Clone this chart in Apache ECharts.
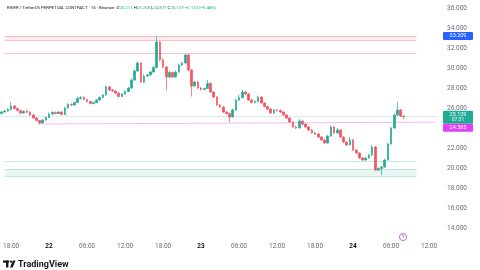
<!DOCTYPE html>
<html>
<head>
<meta charset="utf-8">
<script src="https://cdn.jsdelivr.net/npm/echarts@6/dist/echarts.min.js"></script>
<style>
  html, body { margin: 0; padding: 0; background: #fff; }
  #chart { width: 480px; height: 270px; }
</style>
</head>
<body>
<div id="chart"></div>
<script>
// RIVER / USDT perp, candles every 30 min from 21 Dec 16:30 to 24 Dec 08:00
const candleOpen = [
  25.45, 25.60, 25.70, 25.85, 26.20, 25.95, 25.75, 25.50, 25.65, 25.60, 25.30, 25.00, 24.75, 24.50, 24.80, 25.05,
  25.40, 25.55, 25.45, 25.60, 25.35, 26.00, 26.35, 26.30, 26.55, 26.95, 27.05, 26.85, 26.65, 26.45, 26.55, 26.80,
  27.05, 27.30, 28.10, 27.80, 27.70, 27.50, 27.15, 27.40, 27.65, 28.00, 28.80, 29.70, 30.50, 28.60, 29.20, 29.30,
  29.60, 30.05, 32.60, 30.80, 30.10, 29.10, 29.55, 29.10, 29.60, 30.30, 30.50, 31.30, 29.80, 28.20, 28.60, 28.00,
  27.85, 27.95, 28.45, 27.60, 27.10, 26.30, 26.10, 25.60, 25.45, 25.10, 25.80, 26.80, 27.05, 27.60, 27.40, 26.80,
  26.55, 26.65, 27.10, 26.50, 26.15, 25.90, 25.50, 25.80, 25.75, 25.60, 25.30, 25.00, 24.60, 24.10, 24.00, 24.70,
  24.40, 24.10, 23.80, 23.50, 23.40, 23.10, 22.80, 22.50, 23.20, 24.10, 23.50, 23.80, 23.10, 22.60, 22.30, 22.80,
  21.80, 21.50, 21.00, 20.80, 21.00, 21.30, 22.10, 19.80, 19.95, 20.10, 20.80, 22.40, 24.00, 25.30, 25.80, 25.211
];
const candleClose = [
  25.60, 25.70, 25.85, 26.20, 25.95, 25.75, 25.50, 25.65, 25.60, 25.30, 25.00, 24.75, 24.50, 24.80, 25.05, 25.40,
  25.55, 25.45, 25.60, 25.35, 26.00, 26.35, 26.30, 26.55, 26.95, 27.05, 26.85, 26.65, 26.45, 26.55, 26.80, 27.05,
  27.30, 28.10, 27.80, 27.70, 27.50, 27.15, 27.40, 27.65, 28.00, 28.80, 29.70, 30.50, 28.60, 29.20, 29.30, 29.60,
  30.05, 32.60, 30.80, 30.10, 29.10, 29.55, 29.10, 29.60, 30.30, 30.50, 31.30, 29.80, 28.20, 28.60, 28.00, 27.85,
  27.95, 28.45, 27.60, 27.10, 26.30, 26.10, 25.60, 25.45, 25.10, 25.80, 26.80, 27.05, 27.60, 27.40, 26.80, 26.55,
  26.65, 27.10, 26.50, 26.15, 25.90, 25.50, 25.80, 25.75, 25.60, 25.30, 25.00, 24.60, 24.10, 24.00, 24.70, 24.40,
  24.10, 23.80, 23.50, 23.40, 23.10, 22.80, 22.50, 23.20, 24.10, 23.50, 23.80, 23.10, 22.60, 22.30, 22.80, 21.80,
  21.50, 21.00, 20.80, 21.00, 21.30, 22.10, 19.80, 19.95, 20.10, 20.80, 22.40, 24.00, 25.30, 25.80, 25.21, 25.129
];
const candleLow = [
  25.38, 25.52, 25.62, 25.80, 25.88, 25.68, 25.40, 25.42, 25.48, 25.22, 24.92, 24.66, 24.35, 24.45, 24.72, 24.98,
  25.30, 25.36, 25.38, 25.28, 25.30, 25.92, 26.18, 26.22, 26.48, 26.86, 26.76, 26.55, 26.38, 26.36, 26.48, 26.72,
  26.98, 27.25, 27.70, 27.58, 27.40, 27.05, 27.08, 27.32, 27.58, 27.92, 28.72, 29.60, 28.50, 28.52, 29.08, 29.22,
  29.52, 29.98, 30.65, 29.95, 27.80, 29.00, 29.02, 29.04, 29.52, 30.20, 30.42, 29.70, 27.15, 28.10, 27.92, 27.75,
  27.78, 27.88, 27.52, 27.00, 26.22, 26.00, 25.50, 25.35, 24.60, 25.02, 25.72, 26.70, 26.98, 27.30, 26.72, 26.45,
  26.46, 26.58, 26.42, 26.05, 25.80, 25.42, 25.44, 25.64, 25.50, 25.22, 24.90, 24.52, 24.02, 23.90, 23.95, 24.30,
  24.02, 23.70, 23.42, 23.30, 23.00, 22.70, 22.40, 22.45, 23.12, 23.42, 23.44, 23.02, 22.50, 22.20, 22.24, 21.72,
  21.40, 20.92, 20.70, 20.74, 20.94, 21.24, 19.72, 19.70, 19.30, 20.02, 20.74, 22.32, 23.92, 25.20, 25.10, 24.877
];
const candleHigh = [
  25.72, 25.82, 26.00, 26.60, 26.30, 26.05, 25.82, 25.78, 25.80, 25.68, 25.38, 25.08, 24.82, 24.90, 25.15, 25.55,
  25.68, 25.65, 25.72, 25.66, 26.10, 26.48, 26.45, 26.66, 27.15, 27.20, 27.18, 26.92, 26.72, 26.66, 26.90, 27.15,
  27.42, 28.25, 28.22, 27.90, 27.78, 27.58, 27.52, 27.78, 28.12, 28.95, 29.85, 30.65, 30.58, 29.35, 29.45, 29.72,
  30.20, 33.209, 32.70, 30.95, 30.20, 29.68, 29.65, 29.72, 30.42, 30.62, 31.45, 31.38, 29.90, 28.72, 28.70, 28.10,
  28.06, 28.80, 28.55, 27.68, 27.18, 26.40, 26.18, 25.70, 25.55, 25.92, 26.92, 27.30, 27.80, 27.70, 27.48, 26.90,
  26.78, 27.25, 27.18, 26.58, 26.22, 25.98, 25.92, 25.90, 25.84, 25.68, 25.38, 25.08, 24.68, 24.20, 24.90, 24.78,
  24.48, 24.18, 23.88, 23.60, 23.48, 23.18, 22.88, 23.30, 24.25, 24.18, 24.00, 23.88, 23.18, 22.68, 23.10, 22.88,
  21.88, 21.58, 21.08, 21.10, 21.40, 22.30, 22.18, 20.05, 20.20, 20.92, 22.52, 24.12, 25.42, 26.60, 25.90, 25.258
];

// drawn levels
const redLevels = [33.209, 32.8, 31.5];      // band 33.209-32.8 + single line
const greenLevels = [20.7, 19.9, 19.13];     // single line + band 19.9-19.13
const trendLine = [24.40, 24.585];           // magenta line, left and right value
const lastPrice = 25.129;

// time slots (30 min), with some empty space on the right
const startTime = Date.UTC(2025, 11, 21, 16, 30);
const slotCount = 138;
const pad = n => (n < 10 ? '0' : '') + n;
const categories = [];
for (let i = 0; i < slotCount; i++) {
  const d = new Date(startTime + i * 30 * 60 * 1000);
  categories.push(d.getUTCDate() + ' ' + pad(d.getUTCHours()) + ':' + pad(d.getUTCMinutes()));
}

const ohlc = candleClose.map((c, i) => [candleOpen[i], c, candleLow[i], candleHigh[i]]);

const UP = '#22ab94';
const DOWN = '#f7525f';
const FONT = 'Roboto, "Noto Sans", sans-serif';

const chart = echarts.init(document.getElementById('chart'));

const lineFrom = 1, lineTo = 131;
const option = {
  animation: false,
  backgroundColor: '#ffffff',
  grid: { left: 0, right: 43, top: 8, bottom: 42 },
  xAxis: {
    type: 'category',
    data: categories,
    boundaryGap: true,
    axisLine: { show: false },
    axisTick: { show: false },
    splitLine: { show: false },
    axisLabel: {
      margin: 15,
      fontSize: 6.5,
      fontFamily: FONT,
      color: '#6a6d78',
      interval: (idx, v) => {
        const t = v.split(' ')[1];
        return t.slice(3) === '00' && parseInt(t, 10) % 6 === 0;
      },
      formatter: v => {
        const parts = v.split(' ');
        return parts[1] === '00:00' ? '{b|' + parts[0] + '}' : parts[1];
      },
      rich: { b: { fontSize: 6.5, fontWeight: 'bold', color: '#131722', fontFamily: FONT } }
    }
  },
  yAxis: {
    type: 'value',
    position: 'right',
    min: 14,
    max: 36,
    interval: 2,
    axisLine: { show: false },
    axisTick: { show: false },
    splitLine: { show: false },
    axisLabel: {
      margin: 10,
      fontSize: 6.5,
      fontFamily: FONT,
      color: '#6a6d78',
      formatter: v => v.toFixed(3)
    }
  },
  series: [
    {
      type: 'candlestick',
      data: ohlc,
      barWidth: 2.2,
      itemStyle: {
        color: UP, color0: DOWN,
        borderColor: UP, borderColor0: DOWN,
        borderWidth: 0.7
      },
      z: 5,
      markArea: {
        silent: true,
        data: [
          [{ coord: [categories[lineFrom], redLevels[0]], itemStyle: { color: 'rgba(242,54,69,0.10)' } },
           { coord: [categories[lineTo], redLevels[1]] }],
          [{ coord: [categories[lineFrom], greenLevels[1]], itemStyle: { color: 'rgba(34,171,148,0.10)' } },
           { coord: [categories[lineTo], greenLevels[2]] }]
        ]
      },
      markLine: {
        silent: true,
        symbol: ['none', 'none'],
        label: { show: false },
        emphasis: { disabled: true },
        data: [
          { yAxis: lastPrice, lineStyle: { color: '#cde9e3', width: 0.8, type: 'solid' } },
          ...redLevels.map(v => [
            { coord: [categories[lineFrom], v], lineStyle: { color: '#f8b4b9', width: 0.8, type: 'solid' } },
            { coord: [categories[lineTo], v] }
          ]),
          ...greenLevels.map(v => [
            { coord: [categories[lineFrom], v], lineStyle: { color: '#b2e6da', width: 0.8, type: 'solid' } },
            { coord: [categories[lineTo], v] }
          ]),
          [
            { coord: [categories[12], trendLine[0]], lineStyle: { color: '#ecb3f0', width: 0.9, type: 'solid' } },
            { coord: [categories[slotCount - 1], trendLine[1]] }
          ]
        ]
      }
    }
  ]
};
chart.setOption(option);

// price tags on the right axis
const yPix = v => chart.convertToPixel({ yAxisIndex: 0 }, v);
const tagX = 443, tagW = 30;
const yBlue = yPix(redLevels[0]);
const yLast = yPix(lastPrice);
const greenTop = yLast - 6, greenH = 13;
const magTop = greenTop + greenH;

chart.setOption({
  graphic: [
    // header
    {
      type: 'text', left: 7, top: 5.5, z: 20,
      style: {
        text: '{a|RIVER / TetherUS PERPETUAL CONTRACT · 15 · Binance  }{k|O}{v|25.211 }{k|H}{v|25.258 }{k|L}{v|24.877 }{k|C}{v|25.129 +0.120 (+0.48%)}',
        rich: {
          a: { fontSize: 4.3, fontFamily: FONT, fill: '#131722' },
          k: { fontSize: 4.3, fontFamily: FONT, fill: '#131722' },
          v: { fontSize: 4.3, fontFamily: FONT, fill: UP }
        }
      }
    },
    // blue tag (high)
    { type: 'rect', z: 20, shape: { x: tagX, y: yBlue - 4, width: tagW, height: 8, r: 1 }, style: { fill: '#2962ff' } },
    { type: 'text', z: 21, x: tagX + tagW / 2, y: yBlue, style: { text: redLevels[0].toFixed(3), fill: '#fff', fontSize: 5.5, fontFamily: FONT, align: 'center', verticalAlign: 'middle' } },
    // last price tag
    { type: 'rect', z: 20, shape: { x: tagX, y: greenTop, width: tagW, height: greenH, r: 1 }, style: { fill: UP } },
    { type: 'text', z: 21, x: tagX + tagW / 2, y: greenTop + 3.5, style: { text: lastPrice.toFixed(3), fill: '#fff', fontSize: 5.5, fontFamily: FONT, align: 'center', verticalAlign: 'middle' } },
    { type: 'text', z: 21, x: tagX + tagW / 2, y: greenTop + 9.5, style: { text: '07:31', fill: '#e6f7f3', fontSize: 5, fontFamily: FONT, align: 'center', verticalAlign: 'middle' } },
    // magenta tag (trend line)
    { type: 'rect', z: 20, shape: { x: tagX, y: magTop, width: tagW, height: 8, r: 1 }, style: { fill: '#e040fb' } },
    { type: 'text', z: 21, x: tagX + tagW / 2, y: magTop + 4, style: { text: trendLine[1].toFixed(3), fill: '#fff', fontSize: 5.5, fontFamily: FONT, align: 'center', verticalAlign: 'middle' } },
    // event marker
    { type: 'circle', z: 20, shape: { cx: 403, cy: 237, r: 3.6 }, style: { fill: '#fff', stroke: '#b452d6', lineWidth: 0.8 } },
    { type: 'text', z: 21, x: 403, y: 237, style: { text: 'ϟ', fill: '#b452d6', fontSize: 5, align: 'center', verticalAlign: 'middle' } },
    // TradingView logo
    { type: 'rect', z: 20, shape: { x: 3, y: 260.5, width: 6, height: 2.2 }, style: { fill: '#131722' } },
    { type: 'rect', z: 20, shape: { x: 6, y: 260.5, width: 2.4, height: 7 }, style: { fill: '#131722' } },
    { type: 'circle', z: 20, shape: { cx: 11, cy: 261.6, r: 1.2 }, style: { fill: '#131722' } },
    { type: 'polygon', z: 20, shape: { points: [[13, 260.5], [15.6, 260.5], [12.6, 267.5], [10, 267.5]] }, style: { fill: '#131722' } },
    { type: 'text', z: 20, x: 18, y: 264.3, style: { text: 'TradingView', fill: '#131722', fontSize: 9, fontWeight: 'bold', fontFamily: FONT, verticalAlign: 'middle' } }
  ]
});
</script>
</body>
</html>
